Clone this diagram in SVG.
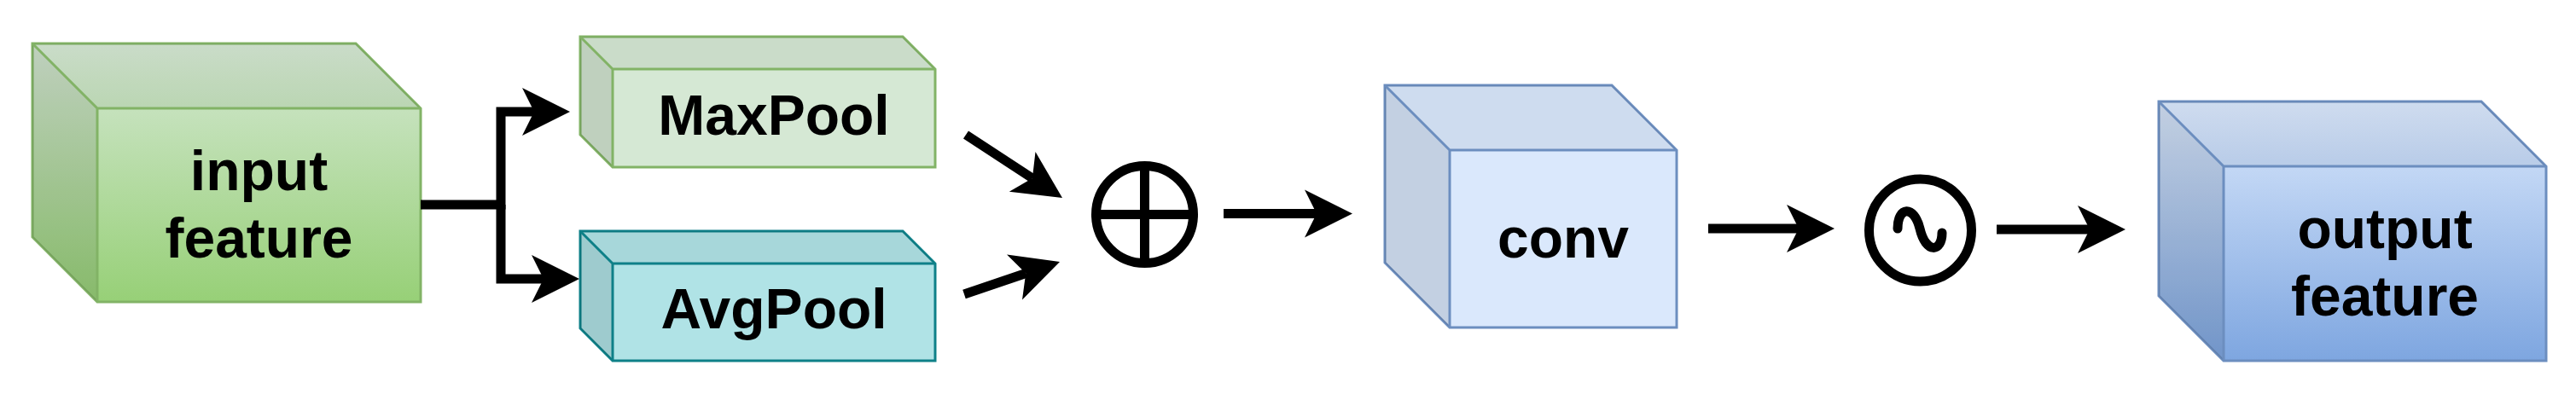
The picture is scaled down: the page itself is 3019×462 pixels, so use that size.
<svg xmlns="http://www.w3.org/2000/svg" width="3019" height="462" viewBox="0 0 3019 462">
  <style>
    .lbl { font-family: "Liberation Sans", Arial, Helvetica, sans-serif; font-weight: bold; font-size: 66px; fill: #000000; text-anchor: middle; }
    .cube { stroke-width: 3; stroke-linejoin: miter; }
    .top { fill: #000000; fill-opacity: 0.05; stroke: none; }
    .left { fill: #000000; fill-opacity: 0.1; stroke: none; }
    .edge { fill: none; stroke-width: 3; }
    .conn { fill: none; stroke: #000000; stroke-width: 11; stroke-linejoin: miter; stroke-linecap: butt; }
    .head { fill: #000000; stroke: none; }
    .sym { fill: none; stroke: #000000; stroke-width: 11; }
  </style>
  <defs>
    <linearGradient id="gIn" gradientUnits="userSpaceOnUse" x1="0" y1="51" x2="0" y2="354">
      <stop offset="0" stop-color="#d5e8d4"/>
      <stop offset="1" stop-color="#97d077"/>
    </linearGradient>
    <linearGradient id="gOut" gradientUnits="userSpaceOnUse" x1="0" y1="119" x2="0" y2="423">
      <stop offset="0" stop-color="#dae8fc"/>
      <stop offset="1" stop-color="#7ea6e0"/>
    </linearGradient>
  </defs>
  <rect x="0" y="0" width="3019" height="462" fill="#ffffff"/>

  <g id="input-feature">
    <polygon class="cube" points="38,51 417,51 493,127 493,354 114,354 38,278" fill="url(#gIn)" stroke="#82b366"/>
    <polygon class="top" points="38,51 417,51 493,127 114,127"/>
    <polygon class="left" points="38,51 114,127 114,354 38,278"/>
    <path class="edge" d="M38,51 L114,127 L493,127 M114,127 L114,354" stroke="#82b366"/>
    <text class="lbl" x="303.5" y="223">input</text>
    <text class="lbl" x="303.5" y="302">feature</text>
  </g>

  <g id="maxpool">
    <polygon class="cube" points="680,43 1058,43 1096,81 1096,196 718,196 680,158" fill="#d5e8d4" stroke="#82b366"/>
    <polygon class="top" points="680,43 1058,43 1096,81 718,81"/>
    <polygon class="left" points="680,43 718,81 718,196 680,158"/>
    <path class="edge" d="M680,43 L718,81 L1096,81 M718,81 L718,196" stroke="#82b366"/>
    <text class="lbl" x="907" y="158">MaxPool</text>
  </g>

  <g id="avgpool">
    <polygon class="cube" points="680,271 1058,271 1096,309 1096,423 718,423 680,385" fill="#b0e3e6" stroke="#0e8088"/>
    <polygon class="top" points="680,271 1058,271 1096,309 718,309"/>
    <polygon class="left" points="680,271 718,309 718,423 680,385"/>
    <path class="edge" d="M680,271 L718,309 L1096,309 M718,309 L718,423" stroke="#0e8088"/>
    <text class="lbl" x="907" y="385">AvgPool</text>
  </g>

  <g id="add">
    <circle class="sym" cx="1341.5" cy="251.5" r="57"/>
    <path class="sym" d="M1341.5,194.5 L1341.5,308.5 M1284.5,251.5 L1398.5,251.5"/>
  </g>

  <g id="conv">
    <polygon class="cube" points="1623,100 1889,100 1965,176 1965,384 1699,384 1623,308" fill="#dae8fc" stroke="#6c8ebf"/>
    <polygon class="top" points="1623,100 1889,100 1965,176 1699,176"/>
    <polygon class="left" points="1623,100 1699,176 1699,384 1623,308"/>
    <path class="edge" d="M1623,100 L1699,176 L1965,176 M1699,176 L1699,384" stroke="#6c8ebf"/>
    <text class="lbl" x="1832" y="302">conv</text>
  </g>

  <g id="sigmoid">
    <circle class="sym" cx="2250.5" cy="270" r="60"/>
    <path class="sym" stroke-width="10" stroke-linecap="round" d="M2224,268 C2224,242 2243,240 2250,268 C2257,298 2276,296 2276,273"/>
  </g>

  <g id="output-feature">
    <polygon class="cube" points="2530,119 2908,119 2984,195 2984,423 2606,423 2530,347" fill="url(#gOut)" stroke="#6c8ebf"/>
    <polygon class="top" points="2530,119 2908,119 2984,195 2606,195"/>
    <polygon class="left" points="2530,119 2606,195 2606,423 2530,347"/>
    <path class="edge" d="M2530,119 L2606,195 L2984,195 M2606,195 L2606,423" stroke="#6c8ebf"/>
    <text class="lbl" x="2795" y="291">output</text>
    <text class="lbl" x="2795" y="370">feature</text>
  </g>

  <g id="connectors">
    <path class="conn" d="M493,240 H587 V131 H626"/>
    <polygon class="head" points="668,131 612,103 626,131 612,159"/>
    <path class="conn" d="M587,240 V327 H637"/>
    <polygon class="head" points="679,327 623,299 637,327 623,355"/>
    <path class="conn" d="M1132,158 L1209.9,209"/>
    <polygon class="head" points="1245,232 1213.5,177.9 1209.9,209 1182.8,224.7"/>
    <path class="conn" d="M1130,345 L1202.2,320.5"/>
    <polygon class="head" points="1242,307 1180,298.5 1202.2,320.5 1198,351.5"/>
    <path class="conn" d="M1434,250.5 H1543"/>
    <polygon class="head" points="1585,250.5 1529,222.5 1543,250.5 1529,278.5"/>
    <path class="conn" d="M2002,268 H2108"/>
    <polygon class="head" points="2150,268 2094,240 2108,268 2094,296"/>
    <path class="conn" d="M2340,269 H2449"/>
    <polygon class="head" points="2491,269 2435,241 2449,269 2435,297"/>
  </g>
</svg>
